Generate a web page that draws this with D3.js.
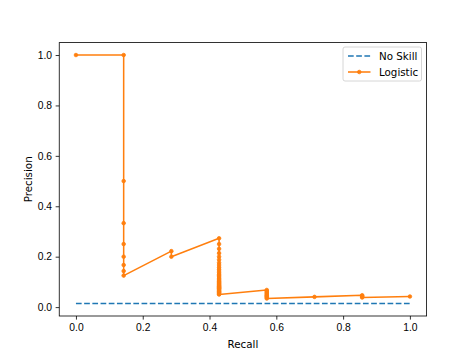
<!DOCTYPE html>
<html>
<head>
<meta charset="utf-8">
<script src="https://cdn.jsdelivr.net/npm/d3@7"></script>
<style>
  body { margin: 0; background: #fff; }
  svg { display: block; font-family: "DejaVu Sans", sans-serif; }
  .axis text { font-size: 10.3px; fill: #000; }
  .axis path, .axis line { stroke: #000; stroke-width: 0.8px; }
</style>
</head>
<body>
<script>
// precision-recall points, in plotted order
var recall = [0,
  0.1429, 0.1429, 0.1429, 0.1429, 0.1429, 0.1429, 0.1429, 0.1429,
  0.2857, 0.2857,
  0.4286, 0.4286, 0.4286, 0.4286, 0.4286, 0.4286, 0.4286, 0.4286, 0.4286, 0.4286,
  0.4286, 0.4286, 0.4286, 0.4286, 0.4286, 0.4286, 0.4286, 0.4286, 0.4286, 0.4286,
  0.4286, 0.4286, 0.4286, 0.4286, 0.4286, 0.4286, 0.4286, 0.4286, 0.4286, 0.4286,
  0.4286, 0.4286, 0.4286, 0.4286, 0.4286, 0.4286, 0.4286, 0.4286, 0.4286, 0.4286,
  0.5714, 0.5714, 0.5714, 0.5714, 0.5714, 0.5714, 0.5714, 0.5714, 0.5714, 0.5714,
  0.7143,
  0.8571, 0.8571, 0.8571, 0.8571,
  1.0];
var precision = [1.0,
  1.0, 0.5, 0.333, 0.25, 0.2, 0.167, 0.143, 0.125,
  0.222, 0.2,
  0.273, 0.25, 0.231, 0.214, 0.2, 0.188, 0.176, 0.167, 0.158, 0.15,
  0.143, 0.136, 0.13, 0.125, 0.12, 0.115, 0.111, 0.107, 0.103, 0.1,
  0.097, 0.094, 0.091, 0.088, 0.086, 0.083, 0.081, 0.079, 0.077, 0.075,
  0.073, 0.071, 0.068, 0.065, 0.062, 0.06, 0.058, 0.055, 0.052, 0.05,
  0.068, 0.064, 0.06, 0.056, 0.052, 0.048, 0.045, 0.042, 0.038, 0.034,
  0.0405,
  0.047, 0.044, 0.041, 0.038,
  0.042];
var noSkill = 0.014;
var xTicks = [0, 0.2, 0.4, 0.6, 0.8, 1.0];
var yTicks = [0, 0.2, 0.4, 0.6, 0.8, 1.0];
var legendLabels = ["No Skill", "Logistic"];

var W = 474, H = 355;
var margin = { top: 42.6, right: 47.4, bottom: 39, left: 59.25 },
  width = W - margin.left - margin.right,
  height = H - margin.top - margin.bottom;

var pts = recall.map(function (r, i) { return [r, precision[i]]; });

// matplotlib-style 5% margins
var xmin = 0, xmax = 1, ymin = noSkill, ymax = 1;
var xpad = (xmax - xmin) * 0.05, ypad = (ymax - ymin) * 0.05;
var x = d3.scaleLinear().domain([xmin - xpad, xmax + xpad]).range([0, width]);
var y = d3.scaleLinear().domain([ymin - ypad, ymax + ypad]).range([height, 0]);

var svg = d3.select("body").append("svg")
  .attr("width", W).attr("height", H);
var g = svg.append("g")
  .attr("transform", "translate(" + margin.left + "," + margin.top + ")");

var blue = "#1f77b4", orange = "#ff7f0e";

var line = d3.line()
  .x(function (d) { return x(d[0]); })
  .y(function (d) { return y(d[1]); });

// no skill
g.append("path")
  .datum([[0, noSkill], [1, noSkill]])
  .attr("d", line)
  .attr("fill", "none")
  .attr("stroke", blue)
  .attr("stroke-width", 1.54)
  .attr("stroke-dasharray", "5.7,2.5");

// logistic
g.append("path")
  .datum(pts)
  .attr("d", line)
  .attr("fill", "none")
  .attr("stroke", orange)
  .attr("stroke-width", 1.54)
  .attr("stroke-linejoin", "round");

g.selectAll(".dot")
  .data(pts)
  .enter().append("circle")
  .attr("class", "dot")
  .attr("cx", function (d) { return x(d[0]); })
  .attr("cy", function (d) { return y(d[1]); })
  .attr("r", 1.8)
  .attr("fill", orange)
  .attr("stroke", orange)
  .attr("stroke-width", 0.8);

// axes
var xAxis = d3.axisBottom(x).tickValues(xTicks).tickFormat(d3.format(".1f"))
  .tickSize(3.6).tickPadding(3.6);
var yAxis = d3.axisLeft(y).tickValues(yTicks).tickFormat(d3.format(".1f"))
  .tickSize(3.6).tickPadding(3.6);

g.append("g").attr("class", "axis")
  .attr("transform", "translate(0," + height + ")")
  .call(xAxis)
  .call(function (s) { s.select(".domain").remove(); });
g.append("g").attr("class", "axis")
  .call(yAxis)
  .call(function (s) { s.select(".domain").remove(); });

g.selectAll(".axis text").attr("font-family", null);

// frame
g.append("rect")
  .attr("width", width).attr("height", height)
  .attr("fill", "none")
  .attr("stroke", "#000")
  .attr("stroke-width", 0.8);

// axis labels
svg.append("text")
  .attr("x", margin.left + width / 2)
  .attr("y", 348)
  .attr("text-anchor", "middle")
  .attr("font-size", "10.3px")
  .text("Recall");
svg.append("text")
  .attr("transform", "translate(32," + (margin.top + height / 2) + ") rotate(-90)")
  .attr("text-anchor", "middle")
  .attr("font-size", "10.3px")
  .text("Precision");

// legend
var leg = svg.append("g").attr("transform", "translate(343,47)");
leg.append("rect")
  .attr("width", 78.5).attr("height", 34)
  .attr("rx", 2).attr("ry", 2)
  .attr("fill", "#fff").attr("fill-opacity", 0.8)
  .attr("stroke", "#ccc").attr("stroke-width", 0.8);

leg.append("line")
  .attr("x1", 5).attr("x2", 27.5).attr("y1", 9).attr("y2", 9)
  .attr("stroke", blue).attr("stroke-width", 1.54)
  .attr("stroke-dasharray", "5.7,2.5");
leg.append("line")
  .attr("x1", 5).attr("x2", 27.5).attr("y1", 25).attr("y2", 25)
  .attr("stroke", orange).attr("stroke-width", 1.54);
leg.append("circle")
  .attr("cx", 16.25).attr("cy", 25).attr("r", 1.8)
  .attr("fill", orange).attr("stroke", orange).attr("stroke-width", 0.8);

leg.selectAll(".lbl")
  .data(legendLabels)
  .enter().append("text")
  .attr("x", 36)
  .attr("y", function (d, i) { return 9 + i * 16; })
  .attr("dy", "0.35em")
  .attr("font-size", "10.3px")
  .text(function (d) { return d; });
</script>
</body>
</html>
